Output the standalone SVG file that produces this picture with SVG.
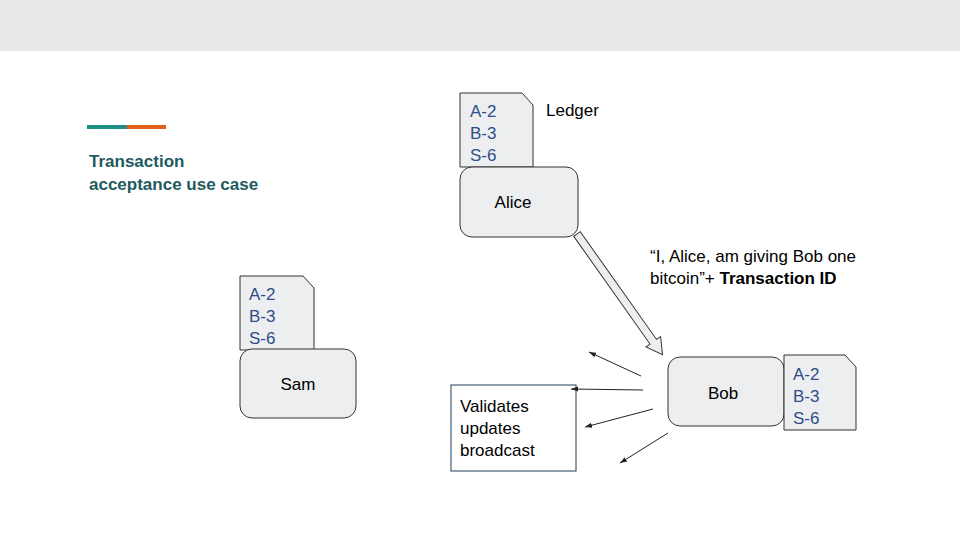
<svg xmlns="http://www.w3.org/2000/svg" width="960" height="540" viewBox="0 0 960 540">
<style>
.doc{fill:#eceeef;stroke:#333;stroke-width:1}
.box{fill:#eceeef;stroke:#333;stroke-width:1}
.led{font-family:"Liberation Sans",Arial,sans-serif;font-size:17px;fill:#2f4d8a}
.t{font-family:"Liberation Sans",Arial,sans-serif;font-size:17px;fill:#000}
.c{stroke:#222;stroke-width:1;fill:none;marker-end:url(#ah)}
</style>
<defs><marker id="ah" markerWidth="8" markerHeight="8" refX="7" refY="4" orient="auto" markerUnits="userSpaceOnUse"><path d="M0,1.5 L7,4 L0,6.5 z" fill="#222"/></marker></defs>
<rect width="960" height="540" fill="#fff"/>
<rect width="960" height="51" fill="#e8eaea"/>
<line x1="87" y1="127" x2="127" y2="127" stroke="#1f9086" stroke-width="4"/>
<line x1="127" y1="127" x2="166" y2="127" stroke="#e0601a" stroke-width="4"/>
<text x="89" y="167" font-family="'Liberation Sans',Arial,sans-serif" font-size="17" font-weight="bold" fill="#1e5a5e">Transaction</text>
<text x="89" y="190" font-family="'Liberation Sans',Arial,sans-serif" font-size="17" font-weight="bold" fill="#1e5a5e">acceptance use case</text>
<g id="alice-ledger"><path class="doc" d="M460,93 H522 L533,105 V167 H460 Z"/>
<text class="led" x="470" y="117">A-2</text><text class="led" x="470" y="139">B-3</text><text class="led" x="470" y="161">S-6</text></g>
<text class="t" x="546" y="116">Ledger</text>
<g id="alice"><rect class="box" x="460" y="167" width="118" height="70" rx="12"/><text class="t" x="513" y="208" text-anchor="middle">Alice</text></g>
<g id="sam-ledger"><path class="doc" d="M240,276 H303 L314,288 V350 H240 Z"/>
<text class="led" x="249" y="300">A-2</text><text class="led" x="249" y="322">B-3</text><text class="led" x="249" y="344">S-6</text></g>
<g id="sam"><rect class="box" x="240" y="349" width="116" height="69" rx="12"/><text class="t" x="298" y="390" text-anchor="middle">Sam</text></g>
<g id="bob"><rect class="box" x="668" y="357" width="116" height="69" rx="12"/><text class="t" x="723" y="399" text-anchor="middle">Bob</text></g>
<g id="bob-ledger"><path class="doc" d="M784,355 H845 L856,367 V430 H784 Z"/>
<text class="led" x="793" y="380">A-2</text><text class="led" x="793" y="402">B-3</text><text class="led" x="793" y="424">S-6</text></g>
<g id="validates"><rect x="451" y="385" width="125" height="86" fill="#fff" stroke="#1f3a5a" stroke-width="1"/>
<text class="t" x="460" y="412">Validates</text><text class="t" x="460" y="434">updates</text><text class="t" x="460" y="456">broadcast</text></g>
<text class="t" x="650" y="262">“I, Alice, am giving Bob one</text>
<text class="t" x="650" y="284">bitcoin”+ <tspan font-weight="bold">Transaction ID</tspan></text>
<g id="connectors">
<path transform="translate(577,234) rotate(54.7)" d="M0,-4 H132 V-9 L148,0 L132,9 V4 H0 Z" fill="#eceeef" stroke="#333" stroke-width="1"/>
<line class="c" x1="641" y1="376" x2="589" y2="352"/>
<line class="c" x1="643" y1="390" x2="571" y2="389"/>
<line class="c" x1="653" y1="409" x2="585" y2="427"/>
<line class="c" x1="668" y1="433" x2="620" y2="463"/>
</g>
</svg>
